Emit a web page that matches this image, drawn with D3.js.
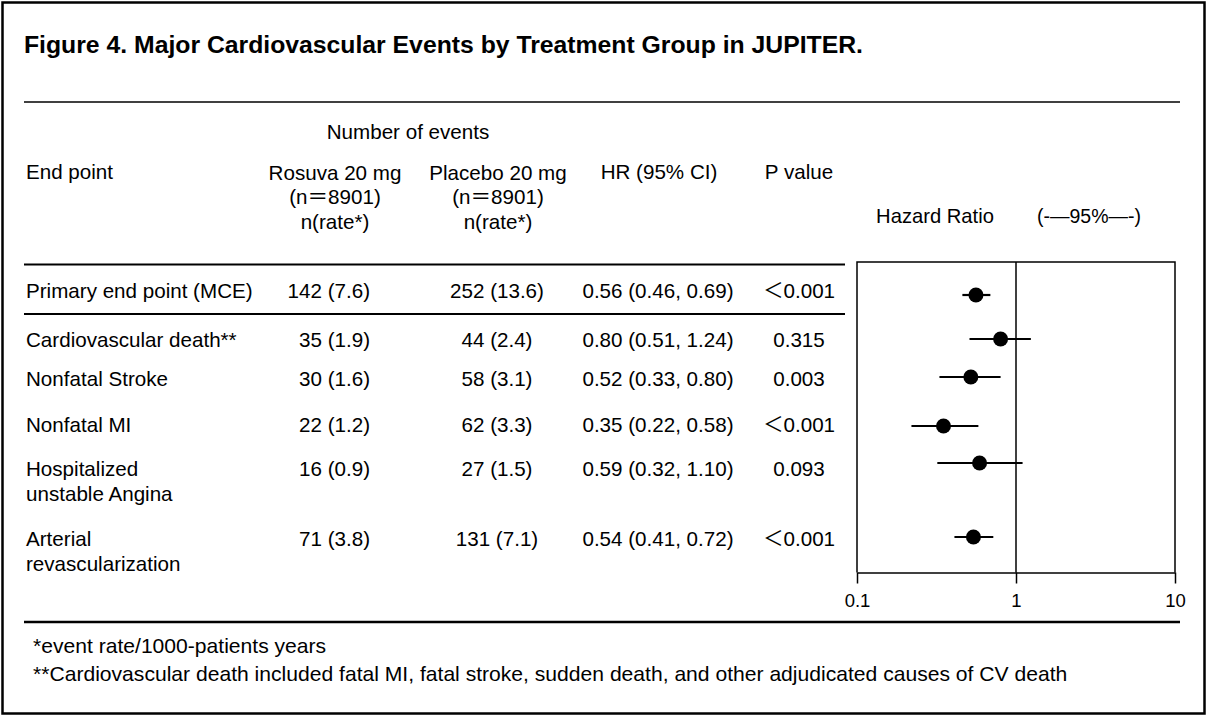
<!DOCTYPE html>
<html><head><meta charset="utf-8">
<script src="https://cdn.jsdelivr.net/npm/d3@7"></script>
<style>
body{margin:0;background:#fff}
svg{display:block}
text{font-family:"Liberation Sans",Arial,Helvetica,"Noto Sans CJK SC",sans-serif;fill:#000}
</style>
</head><body>
<svg id="chart" width="1207" height="716"></svg>
<script>
// ---------- data ----------
const endpoints = ["Primary end point (MCE)", "Cardiovascular death**", "Nonfatal Stroke", "Nonfatal MI", "Hospitalized|unstable Angina", "Arterial|revascularization"];
const rosuvaN = [142, 35, 30, 22, 16, 71];
const rosuvaRate = [7.6, 1.9, 1.6, 1.2, 0.9, 3.8];
const placeboN = [252, 44, 58, 62, 27, 131];
const placeboRate = [13.6, 2.4, 3.1, 3.3, 1.5, 7.1];
const hazardRatio = [0.56, 0.80, 0.52, 0.35, 0.59, 0.54];
const ciLower = [0.46, 0.51, 0.33, 0.22, 0.32, 0.41];
const ciUpper = [0.69, 1.24, 0.80, 0.58, 1.10, 0.72];
const pValues = ["\uFF1C0.001", "0.315", "0.003", "\uFF1C0.001", "0.093", "\uFF1C0.001"];
const axisTicks = [0.1, 1, 10];
const titleText = "Figure 4. Major Cardiovascular Events by Treatment Group in JUPITER.";
const footnotes = ["*event rate/1000-patients years", "**Cardiovascular death included fatal MI, fatal stroke, sudden death, and other adjudicated causes of CV death"];

// ---------- layout ----------
const W = 1207, H = 716;
const rowTextBase = [298, 347, 386, 432, 476, 546];   // text baseline of first line per row
const rowMarkY = [295, 339, 377, 426, 463, 537];      // forest marker vertical position per row
const lineGap = 24.5;
const fs = 20.6;

const svg = d3.select("#chart");
svg.append("rect").attr("x", 2.5).attr("y", 2.5).attr("width", W - 5).attr("height", H - 5)
  .attr("fill", "#fff").attr("stroke", "#000").attr("stroke-width", 2.5);

svg.append("text").attr("x", 24).attr("y", 53).attr("font-size", 24.75).attr("font-weight", "bold").text(titleText);

function hline(y, x1, x2, w) {
  svg.append("line").attr("x1", x1).attr("x2", x2).attr("y1", y).attr("y2", y)
    .attr("stroke", "#000").attr("stroke-width", w);
}
hline(102, 24, 1180, 1.5);
hline(264.5, 24, 845, 2);
hline(314, 24, 845, 2);
hline(622, 24, 1180, 2.5);

function txt(x, y, s, anchor, size) {
  return svg.append("text").attr("x", x).attr("y", y).attr("font-size", size || fs)
    .attr("text-anchor", anchor || "start").text(s);
}

// header
const colRosuva = 335, colPlacebo = 498, colHR = 659, colP = 799;
txt(408, 139, "Number of events", "middle");
txt(26, 179, "End point");
[["Rosuva 20 mg", colRosuva], ["Placebo 20 mg", colPlacebo]].forEach(([lab, cx]) => {
  txt(cx, 180, lab, "middle");
  txt(cx, 204, "(n\uFF1D8901)", "middle");
  txt(cx, 229, "n(rate*)", "middle");
});
txt(colHR, 179, "HR (95% CI)", "middle");
txt(colP, 179, "P value", "middle");
txt(935, 223, "Hazard Ratio", "middle", 20.2);
txt(1089, 223, "(-\u201495%\u2014-)", "middle", 19.5);

// table rows
const idx = d3.range(endpoints.length);
const baseScale = d3.scaleOrdinal().domain(endpoints).range(rowTextBase);
const rows = svg.append("g").selectAll("g").data(idx).join("g");
rows.each(function(i) {
  const g = d3.select(this);
  const y = baseScale(endpoints[i]);
  endpoints[i].split("|").forEach((ln, k) => {
    g.append("text").attr("x", 26).attr("y", y + k * lineGap).attr("font-size", fs).text(ln);
  });
  g.append("text").attr("x", 370).attr("y", y).attr("font-size", fs).attr("text-anchor", "end")
    .text(`${rosuvaN[i]} (${rosuvaRate[i].toFixed(1)})`);
  g.append("text").attr("x", 497).attr("y", y).attr("font-size", fs).attr("text-anchor", "middle")
    .text(`${placeboN[i]} (${placeboRate[i].toFixed(1)})`);
  g.append("text").attr("x", 658).attr("y", y).attr("font-size", fs).attr("text-anchor", "middle")
    .text(`${hazardRatio[i].toFixed(2)} (${ciLower[i].toFixed(2)}, ${ciUpper[i].toFixed(2)})`);
  g.append("text").attr("x", colP).attr("y", y).attr("font-size", fs).attr("text-anchor", "middle")
    .text(pValues[i]);
});

// forest plot
const plotL = 857, plotR = 1175, plotT = 262, plotB = 572.5;
const x = d3.scaleLog().domain([0.1, 10]).range([plotL, plotR]);
const y = d3.scaleOrdinal().domain(endpoints).range(rowMarkY);

const fp = svg.append("g");
fp.append("path").attr("d", `M${plotL},${plotB}V${plotT}H${plotR}V${plotB}`)
  .attr("fill", "none").attr("stroke", "#000").attr("stroke-width", 1.5);
fp.append("line").attr("x1", x(1)).attr("x2", x(1)).attr("y1", plotT).attr("y2", plotB)
  .attr("stroke", "#000").attr("stroke-width", 1.5);

const axis = d3.axisBottom(x).tickValues(axisTicks).tickFormat(d => String(d))
  .tickSize(11).tickSizeOuter(0).tickPadding(10);
const ag = fp.append("g").attr("transform", `translate(0,${plotB})`).call(axis);
ag.select(".domain").attr("stroke-width", 1.5);
ag.selectAll(".tick line").attr("stroke-width", 1.5);
ag.selectAll(".tick text").attr("font-size", 18.5).attr("font-family", '"Liberation Sans",Arial,sans-serif');

fp.selectAll("line.ci").data(idx).join("line").attr("class", "ci")
  .attr("x1", i => x(ciLower[i])).attr("x2", i => x(ciUpper[i]))
  .attr("y1", i => y(endpoints[i])).attr("y2", i => y(endpoints[i]))
  .attr("stroke", "#000").attr("stroke-width", 2.2);
fp.selectAll("circle.pt").data(idx).join("circle").attr("class", "pt")
  .attr("cx", i => x(hazardRatio[i])).attr("cy", i => y(endpoints[i])).attr("r", 7.5)
  .attr("fill", "#000");

// footnotes
txt(33, 653, footnotes[0], "start", 21.1);
txt(33, 681, footnotes[1], "start", 21.1);
</script>
</body></html>
